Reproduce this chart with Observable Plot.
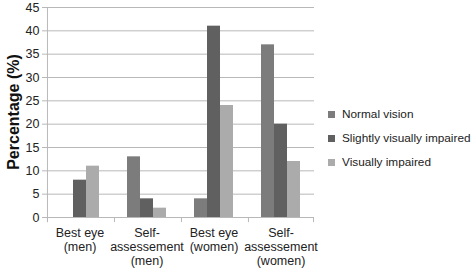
<!DOCTYPE html>
<html><head><meta charset="utf-8">
<script src="https://cdn.jsdelivr.net/npm/d3@7"></script>
<script src="https://cdn.jsdelivr.net/npm/@observablehq/plot@0.6"></script>
<style>
body{margin:0;background:#fff;font-family:"Liberation Sans",Arial,sans-serif;}
#wrap{position:relative;width:474px;height:268px;}
#legend{position:absolute;left:328px;top:102px;font-size:11.8px;color:#222;white-space:nowrap;}
.item{display:flex;align-items:center;height:24px;}
.sw{width:7px;height:7px;margin-right:7px;flex:none;}
</style></head>
<body><div id="wrap"><div id="legend"></div></div>
<script>
const categories = ["Best eye (men)", "Self-assessement (men)", "Best eye (women)", "Self-assessement (women)"];
const tickLabels = ["Best eye\n(men)", "Self-\nassessement\n(men)", "Best eye\n(women)", "Self-\nassessement\n(women)"];
const series = ["Normal vision", "Slightly visually impaired", "Visually impaired"];
const colors = ["#7c7c7c", "#606060", "#ababab"];
const normalVision = [0, 13, 4, 37];
const slightlyImpaired = [8, 4, 41, 20];
const visuallyImpaired = [11, 2, 24, 12];
const yTicks = [0, 5, 10, 15, 20, 25, 30, 35, 40, 45];

const vals = [normalVision, slightlyImpaired, visuallyImpaired];
const data = [];
categories.forEach((c, i) => series.forEach((s, j) => data.push({category: c, series: s, value: vals[j][i]})));

const W = 474, H = 268, mL = 46, mR = 160, mT = 7, mB = 51;
const groupW = (W - mL - mR) / categories.length;
const padOuter = 0.9;
const bw = groupW / (series.length + 2 * padOuter);
const edge = bw * (0.5 + padOuter);

const plot = Plot.plot({
  width: W, height: H,
  marginLeft: mL, marginRight: mR, marginTop: mT, marginBottom: mB,
  style: {fontFamily: "Liberation Sans, Arial, sans-serif", fontSize: "12.5px", color: "#222", background: "transparent"},
  fx: {domain: categories, padding: 0, label: null},
  x: {domain: series, paddingInner: 0, paddingOuter: padOuter, axis: null},
  y: {domain: [0, 45], ticks: yTicks, label: null},
  color: {domain: series, range: colors},
  marks: [
    Plot.ruleY(yTicks, {stroke: "#b8b8b8", strokeWidth: 1}),
    Plot.barY(data, {fx: "category", x: "series", y: "value", fill: "series", inset: 0}),
    Plot.ruleX(data.filter(d => d.series === series[0]), {fx: "category", x: "series", y1: 0, y2: -1.1, dx: -edge, stroke: "#b8b8b8"}),
    Plot.ruleX(data.filter(d => d.series === series[2] && d.category === categories[3]), {fx: "category", x: "series", y1: 0, y2: -1.1, dx: edge, stroke: "#b8b8b8"}),
    Plot.axisY({ticks: yTicks, tickSize: 4, tickPadding: 3, stroke: "#b8b8b8", label: null}),
    Plot.ruleX(data.filter(d => d.series === series[0] && d.category === categories[0]), {fx: "category", x: "series", y1: -1.1, y2: 45, dx: -edge, stroke: "#b8b8b8"}),
    Plot.axisFx({anchor: "bottom", tickSize: 0, tickPadding: 9, label: null, lineHeight: 1.15,
      tickFormat: (d) => tickLabels[categories.indexOf(d)]})
  ]
});
const svg = plot;
svg.style.position = "absolute";
svg.style.left = "0"; svg.style.top = "0";
document.getElementById("wrap").appendChild(svg);

// y axis title
const title = document.createElementNS("http://www.w3.org/2000/svg", "text");
svg.append(title);
title.textContent = "Percentage (%)";
title.setAttribute("transform", `translate(13,${(mT + H - mB) / 2}) rotate(-90)`);
title.setAttribute("text-anchor", "middle");
title.setAttribute("dy", "0.35em");
title.setAttribute("font-weight", "bold");
title.setAttribute("font-size", "16px");
title.setAttribute("fill", "#111");

const lg = document.getElementById("legend");
lg.style.zIndex = 2;
series.forEach((s, i) => {
  const it = document.createElement("div"); it.className = "item";
  const sw = document.createElement("span"); sw.className = "sw"; sw.style.background = colors[i];
  const t = document.createElement("span"); t.textContent = s;
  it.append(sw, t); lg.append(it);
});
</script></body></html>
